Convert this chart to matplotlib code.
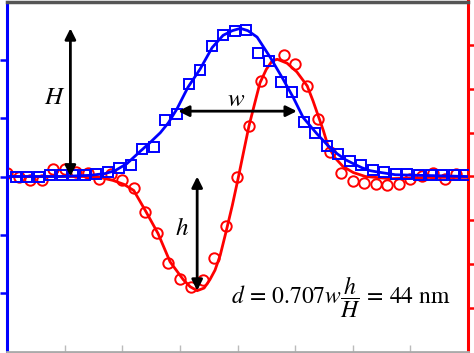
import numpy as np
import matplotlib
matplotlib.use("Agg")
import matplotlib.pyplot as plt

plt.rcParams["mathtext.fontset"] = "stix"
plt.rcParams["font.family"] = ["STIXGeneral", "DejaVu Serif"]

# blue: squares (left axis)
blue_x = [0.15, 0.35, 0.55, 0.75, 0.95, 1.15, 1.35, 1.55, 1.75, 1.95,
          2.15, 2.35, 2.55, 2.75, 2.95, 3.15, 3.35, 3.55, 3.75, 3.95,
          4.15, 4.35, 4.55, 4.75, 4.95, 5.15, 5.35, 5.55, 5.75, 5.95,
          6.15, 6.35, 6.55, 6.75, 6.95, 7.15, 7.35, 7.55, 7.75, 7.95]
blue_y = [0.0, 0.0, 0.0, 0.02, 0.03, 0.02, 0.03, 0.05, 0.07, 0.14,
          0.20, 0.48, 0.51, 0.97, 1.07, 1.58, 1.82, 2.23, 2.42, 2.49,
          2.52, 2.11, 1.98, 1.62, 1.45, 0.94, 0.75, 0.53, 0.39, 0.27,
          0.19, 0.12, 0.07, 0.05, 0.05, 0.03, 0.03, 0.03, 0.02, 0.02]

# blue fit curve
blue_fit_x = [0.0, 0.92, 1.44, 1.70, 1.875, 2.08, 2.31, 2.48, 2.66, 2.80,
              2.95, 3.14, 3.35, 3.56, 3.75, 3.91, 4.05, 4.18, 4.34, 4.57,
              4.79, 4.97, 5.14, 5.38, 5.57, 5.73, 5.87, 6.01, 6.16, 6.30,
              6.48, 6.74, 7.17, 8.0]
blue_fit_y = [0.0, 0.0, 0.02, 0.05, 0.10, 0.22, 0.43, 0.58, 0.75, 0.92,
              1.16, 1.53, 1.84, 2.21, 2.42, 2.50, 2.54, 2.50, 2.39, 2.04,
              1.67, 1.35, 1.01, 0.73, 0.53, 0.39, 0.29, 0.22, 0.15, 0.10,
              0.07, 0.03, 0.02, 0.0]

# red: circles (right axis)
red_x = [0.0, 0.2, 0.4, 0.6, 0.8, 1.0, 1.2, 1.4, 1.6, 1.8,
         2.0, 2.2, 2.4, 2.6, 2.8, 3.0, 3.2, 3.4, 3.6, 3.8,
         4.0, 4.2, 4.4, 4.8, 5.0, 5.2, 5.4, 5.6, 5.8, 6.0,
         6.2, 6.4, 6.6, 6.8, 7.0, 7.2, 7.4, 7.6, 7.8]
red_y = [0.07, -0.02, -0.07, -0.07, 0.16, 0.18, 0.11, 0.07, -0.05, 0.05,
         -0.07, -0.27, -0.82, -1.30, -1.98, -2.34, -2.52, -2.36, -1.86, -1.14,
         -0.02, 1.16, 2.18, 2.77, 2.57, 2.07, 1.32, 0.55, 0.07, -0.11,
         -0.16, -0.18, -0.20, -0.18, -0.05, 0.02, 0.09, -0.05, 0.05]

red_fit_x = [0.0, 1.44, 1.61, 1.84, 2.03, 2.20, 2.41, 2.62, 2.83, 3.06,
             3.18, 3.30, 3.42, 3.52, 3.61, 3.70, 3.80, 3.91, 4.01, 4.11,
             4.20, 4.31, 4.39, 4.50, 4.60, 4.69, 4.86, 5.03, 5.21, 5.31,
             5.40, 5.49, 5.57, 5.69, 5.83, 6.01, 6.22, 6.65, 7.34, 8.0]
red_fit_y = [0.0, 0.0, -0.02, -0.09, -0.18, -0.32, -0.80, -1.30, -1.95, -2.36,
             -2.52, -2.61, -2.55, -2.36, -2.14, -1.80, -1.27, -0.66, -0.05, 0.59,
             1.16, 1.73, 2.14, 2.45, 2.64, 2.68, 2.59, 2.39, 2.07, 1.73,
             1.39, 1.05, 0.70, 0.43, 0.23, 0.09, 0.0, -0.05, -0.02, -0.02]

BLUE = "#0000ff"
RED = "#ff0000"

fig = plt.figure(figsize=(4.74, 3.53), dpi=100)
ax = fig.add_axes([7 / 474, 1.5 / 353, 461 / 474, 350 / 353])
ax2 = ax.twinx()
ax.set_zorder(2)
ax.patch.set_visible(False)

ax2.plot(red_fit_x, red_fit_y, color=RED, lw=2.0)
ax2.plot(red_x, red_y, "o", ms=7.5, mfc="none", mec=RED, mew=1.4)

ax.plot(blue_fit_x, blue_fit_y, color=BLUE, lw=2.0)
ax.plot(blue_x, blue_y, "s", ms=7, mfc="none", mec=BLUE, mew=1.4)

ax.set_xlim(0, 8)
ax.set_ylim(-3, 3)
ax2.set_ylim(-4, 4)
ax.set_xticks(np.arange(1, 8))
ax.set_yticks([-2, -1, 0, 1, 2])
ax2.set_yticks([-3, -2, -1, 0, 1, 2, 3])
ax.set_xticklabels([])
ax.set_yticklabels([])
ax2.set_yticklabels([])

ax.tick_params(axis="y", direction="out", length=5, width=1.8, color=BLUE)
ax2.tick_params(axis="y", direction="out", length=6, width=1.8, color=RED)
ax.tick_params(axis="x", direction="in", length=5, width=1, color="#bbbbbb")

ax.spines["left"].set_color(BLUE)
ax.spines["left"].set_linewidth(2.2)
ax.spines["right"].set_visible(False)
ax.spines["top"].set_color("#555555")
ax.spines["top"].set_linewidth(2.5)
ax.spines["bottom"].set_color("#aaaaaa")
ax.spines["bottom"].set_linewidth(2)
ax2.spines["top"].set_visible(False)
ax2.spines["bottom"].set_visible(False)
ax2.spines["left"].set_visible(False)
ax2.spines["right"].set_color(RED)
ax2.spines["right"].set_linewidth(2.2)

arrow = dict(arrowstyle="<|-|>", color="black", lw=2, mutation_scale=16,
             shrinkA=0, shrinkB=0)

# H: blue peak height
H_x = 1.1
ax.annotate("", xy=(H_x, max(blue_fit_y)), xytext=(H_x, 0), arrowprops=arrow)
ax.text(0.83, 1.35, "$H$", fontsize=18, ha="center", va="center")

# w: width of the blue peak
ax.annotate("", xy=(2.97, 1.12), xytext=(5.03, 1.12), arrowprops=arrow)
ax.text(3.98, 1.32, "$w$", fontsize=18, ha="center", va="center")

# h: red dip depth
i_min = int(np.argmin(red_fit_y))
h_x = red_fit_x[i_min]
ax.annotate("", xy=(h_x, 0), xytext=(h_x, red_fit_y[i_min]),
            xycoords=ax2.transData, textcoords=ax2.transData, arrowprops=arrow)
ax2.text(3.04, -1.2, "$h$", fontsize=18, ha="center", va="center", zorder=5)

ax2.text(3.88, -2.75, r"$d\,=\,0.707w\dfrac{h}{H}\,=\,44\ \mathrm{nm}$",
         fontsize=17, ha="left", va="center")

fig.savefig("out.png", dpi=100)
